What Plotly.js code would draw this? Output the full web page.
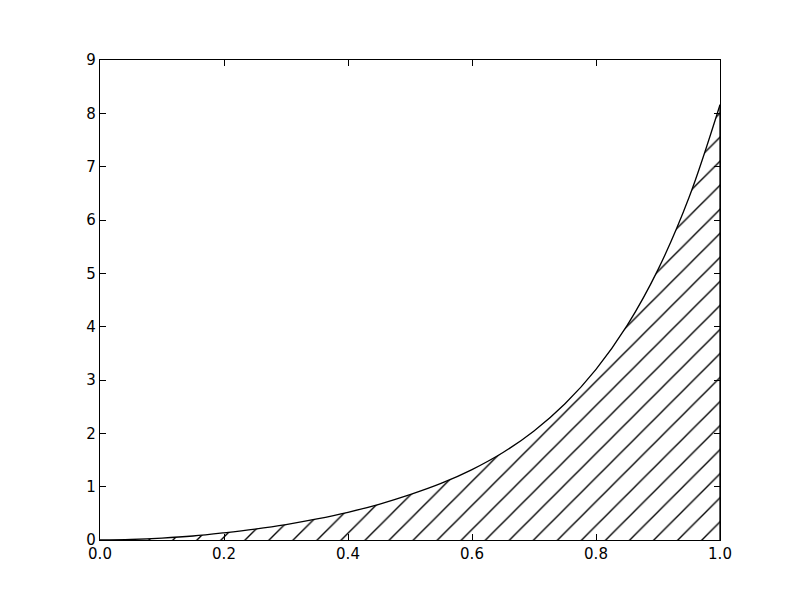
<!DOCTYPE html>
<html>
<head>
<meta charset="utf-8">
<script src="https://cdn.plot.ly/plotly-3.0.1.min.js"></script>
<style>
  html, body { margin:0; padding:0; background:#fff; }
  #chart { width:800px; height:600px; }
</style>
</head>
<body>
<div id="chart"></div>
<script>
// ── Courbe hachurée ─────────────────────────────────────────────────────────
// valeurs
const xVals = [0, 0.05, 0.1, 0.15, 0.2, 0.25, 0.3, 0.35, 0.4, 0.45, 0.5,
               0.55, 0.6, 0.65, 0.7, 0.75, 0.8, 0.85, 0.9, 0.95, 1.0];
const yVals = [0, 0.01, 0.035, 0.075, 0.135, 0.205, 0.29, 0.395, 0.52, 0.67, 0.85,
               1.06, 1.32, 1.64, 2.045, 2.555, 3.2, 4.02, 5.07, 6.42, 8.16];
const xTicks = [0, 0.2, 0.4, 0.6, 0.8, 1.0];
const xTickText = ['0.0', '0.2', '0.4', '0.6', '0.8', '1.0'];
const yTicks = [0, 1, 2, 3, 4, 5, 6, 7, 8, 9];

const traces = [
  {x:xVals, y:yVals, type:'scatter', mode:'lines', fill:'tozeroy',
   line:{color:'black', width:1.3, shape:'spline', smoothing:1},
   fillcolor:'rgba(0,0,0,0)',
   fillpattern:{shape:'/', size:17, solidity:0.08, fgcolor:'black', bgcolor:'white'},
   hoverinfo:'skip'},
  // bord droit du polygone
  {x:[1.0, 1.0], y:[0, yVals[yVals.length-1]], type:'scatter', mode:'lines',
   line:{color:'black', width:1.3}, hoverinfo:'skip'},
];

const axisCommon = {
  showgrid:false, zeroline:false, showline:true, linecolor:'black', linewidth:1.2,
  mirror:'allticks', ticks:'inside', ticklen:6, tickwidth:1, tickcolor:'black',
  tickfont:{family:'DejaVu Sans, sans-serif', size:15, color:'black'},
};

const layout = {
  width:800, height:600,
  margin:{l:100, r:80, t:60, b:60},
  paper_bgcolor:'white', plot_bgcolor:'white',
  showlegend:false,
  xaxis:Object.assign({}, axisCommon, {range:[0, 1], tickvals:xTicks, ticktext:xTickText}),
  yaxis:Object.assign({}, axisCommon, {range:[0, 9], tickvals:yTicks}),
};

Plotly.newPlot('chart', traces, layout, {displayModeBar:false, staticPlot:true});
</script>
</body>
</html>
